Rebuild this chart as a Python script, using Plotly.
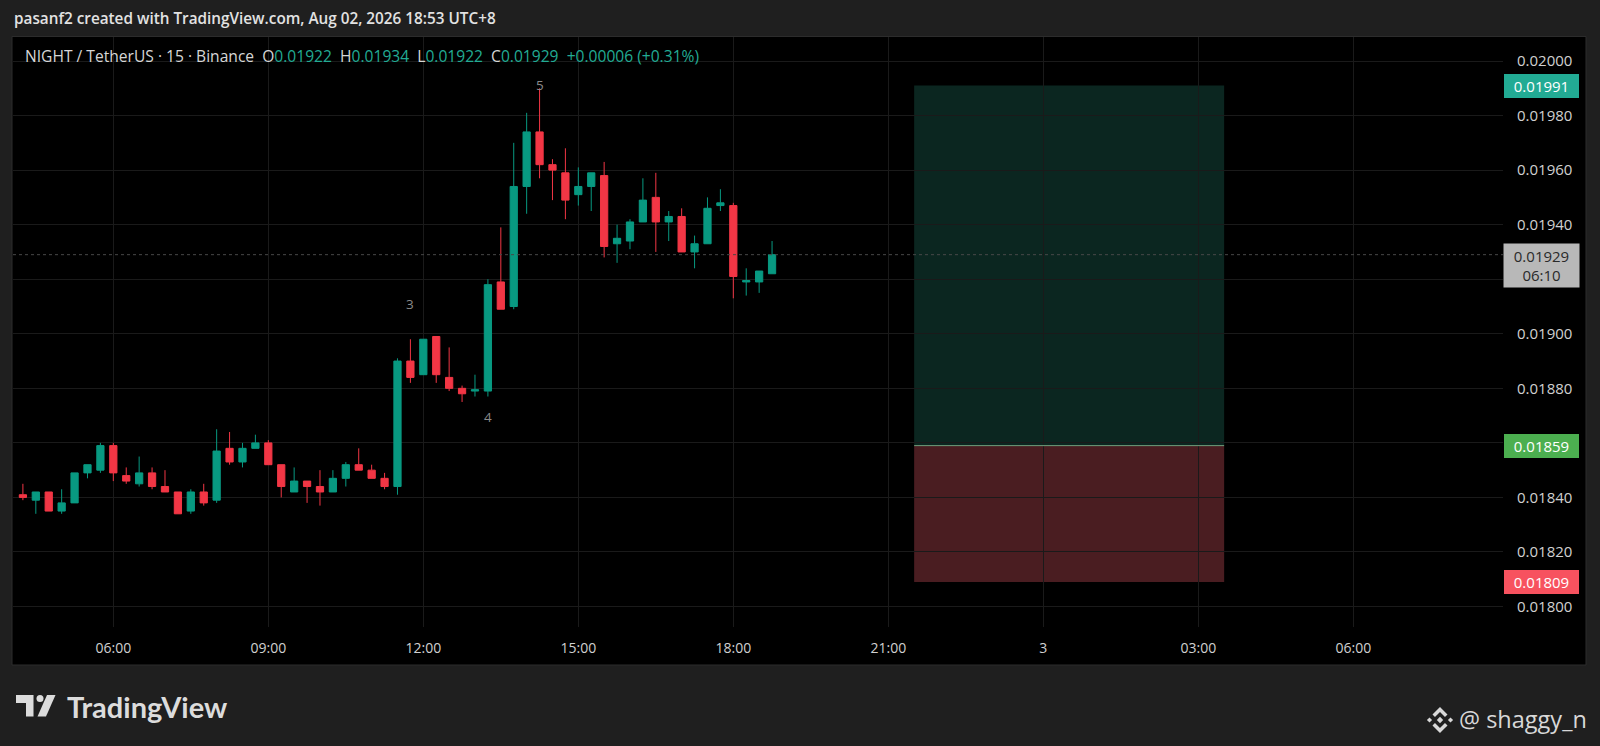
import plotly.graph_objects as go

DAY = "2026-08-02"
times = ["04:15", "04:30", "04:45", "05:00", "05:15", "05:30", "05:45",
         "06:00", "06:15", "06:30", "06:45", "07:00", "07:15", "07:30", "07:45",
         "08:00", "08:15", "08:30", "08:45", "09:00", "09:15", "09:30", "09:45",
         "10:00", "10:15", "10:30", "10:45", "11:00", "11:15", "11:30", "11:45",
         "12:00", "12:15", "12:30", "12:45", "13:00", "13:15", "13:30", "13:45",
         "14:00", "14:15", "14:30", "14:45", "15:00", "15:15", "15:30", "15:45",
         "16:00", "16:15", "16:30", "16:45", "17:00", "17:15", "17:30", "17:45",
         "18:00", "18:15", "18:30", "18:45"]

opens = [0.01841, 0.01839, 0.01842, 0.01835, 0.01838, 0.01849, 0.01850,
         0.01859, 0.01848, 0.01845, 0.01849, 0.01844, 0.01842, 0.01835, 0.01842,
         0.01839, 0.01858, 0.01853, 0.01858, 0.01860, 0.01852, 0.01842, 0.01846,
         0.01844, 0.01842, 0.01847, 0.01852, 0.01850, 0.01847, 0.01844, 0.01890,
         0.01885, 0.01899, 0.01884, 0.01880, 0.018790, 0.01879, 0.01919, 0.01910,
         0.01954, 0.01974, 0.01962, 0.01959, 0.01951, 0.01954, 0.01958, 0.01933,
         0.01934, 0.01941, 0.01950, 0.01941, 0.01943, 0.01930, 0.01933, 0.01947,
         0.01947, 0.019190, 0.01919, 0.01922]
highs = [0.01845, 0.01842, 0.01842, 0.01843, 0.01849, 0.01852, 0.01860,
         0.01860, 0.01851, 0.01855, 0.01851, 0.01850, 0.01842, 0.01843, 0.01845,
         0.01865, 0.01864, 0.01860, 0.01863, 0.01861, 0.01852, 0.01851, 0.01846,
         0.01850, 0.01850, 0.01853, 0.01858, 0.01852, 0.01849, 0.01891, 0.01898,
         0.01898, 0.01899, 0.01895, 0.01881, 0.01885, 0.01920, 0.01939, 0.01970,
         0.01981, 0.01990, 0.01964, 0.01968, 0.01961, 0.01959, 0.01963, 0.01940,
         0.01942, 0.01957, 0.01959, 0.01945, 0.01946, 0.01936, 0.01950, 0.01953,
         0.01948, 0.01924, 0.01923, 0.01934]
lows = [0.01839, 0.01834, 0.01835, 0.01834, 0.01838, 0.01847, 0.01849,
        0.01846, 0.01845, 0.01844, 0.01843, 0.01842, 0.01834, 0.01834, 0.01837,
        0.01838, 0.01852, 0.01851, 0.01858, 0.01852, 0.01840, 0.01842, 0.01838,
        0.01837, 0.01842, 0.01844, 0.01850, 0.01847, 0.01843, 0.01841, 0.01882,
        0.01885, 0.01882, 0.01879, 0.01875, 0.01877, 0.01877, 0.01909, 0.01909,
        0.01944, 0.01957, 0.01949, 0.01942, 0.01947, 0.01945, 0.01928, 0.01926,
        0.01931, 0.01941, 0.01930, 0.01934, 0.01930, 0.01924, 0.01933, 0.01945,
        0.01913, 0.01914, 0.01915, 0.01922]
closes = [0.01840, 0.01842, 0.01835, 0.01838, 0.01849, 0.01852, 0.01859,
          0.01849, 0.01846, 0.01849, 0.01844, 0.01842, 0.01834, 0.01842, 0.01838,
          0.01857, 0.01853, 0.01858, 0.01860, 0.01852, 0.01844, 0.01846, 0.01844,
          0.01842, 0.01847, 0.01852, 0.01850, 0.01847, 0.01844, 0.01890, 0.01884,
          0.01898, 0.01885, 0.01880, 0.01878, 0.018795, 0.01918, 0.01909, 0.01954,
          0.01974, 0.01962, 0.01960, 0.01949, 0.01954, 0.01959, 0.01932, 0.01935,
          0.01941, 0.01949, 0.01941, 0.01943, 0.01930, 0.01933, 0.01946, 0.01948,
          0.01921, 0.019195, 0.01923, 0.01929]

entry_price = 0.01859
target_price = 0.01991
stop_price = 0.01809
position_start = "2026-08-02 21:30"
position_end = "2026-08-03 03:30"

price_ticks = [0.01800, 0.01820, 0.01840, 0.01860, 0.01880, 0.01900,
               0.01920, 0.01940, 0.01960, 0.01980, 0.02000]
hidden_price_ticks = [0.01860, 0.01920]
time_tick_vals = ["2026-08-02 06:00", "2026-08-02 09:00", "2026-08-02 12:00",
                  "2026-08-02 15:00", "2026-08-02 18:00", "2026-08-02 21:00",
                  "2026-08-03 00:00", "2026-08-03 03:00", "2026-08-03 06:00"]
time_tick_text = ["06:00", "09:00", "12:00", "15:00", "18:00", "21:00", "3", "03:00", "06:00"]

wave_labels = ["3", "4", "5"]
wave_times = ["2026-08-02 11:45", "2026-08-02 13:15", "2026-08-02 14:15"]
wave_prices = [0.019109, 0.018696, 0.019912]

countdown = "06:10"
symbol_text = "NIGHT / TetherUS · 15 · Binance"
header_text = "pasanf2 created with TradingView.com, Aug 02, 2026 18:53 UTC+8"

W, H = 1600, 746
UP = "#089981"
DOWN = "#f23645"
FONT = "Open Sans"

def px(x):
    return x / W

def py(y):
    return 1 - y / H

x_dates = [f"{DAY} {t}" for t in times]

fig = go.Figure()
fig.add_trace(go.Candlestick(
    x=x_dates, open=opens, high=highs, low=lows, close=closes,
    increasing=dict(line=dict(color=UP, width=1), fillcolor=UP),
    decreasing=dict(line=dict(color=DOWN, width=1), fillcolor=DOWN),
    whiskerwidth=0, hoverinfo="skip", showlegend=False,
))

shapes = []
# black chart panel
shapes.append(dict(type="rect", xref="paper", yref="paper",
                   x0=px(12), x1=px(1586), y0=py(665), y1=py(36.5),
                   fillcolor="#000000", line=dict(color="#2c2c2c", width=1), layer="below"))
# position tool
shapes.append(dict(type="rect", xref="x", yref="y", x0=position_start, x1=position_end,
                   y0=entry_price, y1=target_price, fillcolor="#0b2620",
                   line=dict(width=0), layer="below"))
shapes.append(dict(type="rect", xref="x", yref="y", x0=position_start, x1=position_end,
                   y0=stop_price, y1=entry_price, fillcolor="#4a1d21",
                   line=dict(width=0), layer="below"))
shapes.append(dict(type="line", xref="x", yref="y", x0=position_start, x1=position_end,
                   y0=entry_price, y1=entry_price, line=dict(color="#6f9f7c", width=1)))
# last price dotted line
shapes.append(dict(type="line", xref="paper", yref="y", x0=px(13), x1=px(1503),
                   y0=closes[-1], y1=closes[-1], line=dict(color="#484848", width=1, dash="dot")))

def path(points):
    return "M " + " L ".join(f"{px(a):.5f},{py(b):.5f}" for a, b in points) + " Z"

# TradingView logo icon
LOGO = "#dcdcdc"
shapes.append(dict(type="path", xref="paper", yref="paper",
                   path=path([(16, 695), (33.5, 695), (33.5, 716.5), (26, 716.5), (26, 703), (16, 703)]),
                   fillcolor=LOGO, line=dict(width=0)))
shapes.append(dict(type="circle", xref="paper", yref="paper",
                   x0=px(36.5), x1=px(43.5), y0=py(702), y1=py(695),
                   fillcolor=LOGO, line=dict(width=0)))
shapes.append(dict(type="path", xref="paper", yref="paper",
                   path=path([(47, 695), (55.5, 695), (46, 716.5), (37.5, 716.5)]),
                   fillcolor=LOGO, line=dict(width=0)))

# Binance-style icon
BI = "#d8d8d8"
cx, cy = 1440, 720
def diamond(x, y, r):
    return path([(x, y - r), (x + r, y), (x, y + r), (x - r, y)])
for dx, r in [(-10.5, 2.6), (0, 3.2), (10.5, 2.6)]:
    shapes.append(dict(type="path", xref="paper", yref="paper", path=diamond(cx + dx, cy, r),
                       fillcolor=BI, line=dict(width=0)))
for s in (1, -1):
    shapes.append(dict(type="path", xref="paper", yref="paper",
                       path=path([(cx, cy - s * 13), (cx + 7.5, cy - s * 5.5), (cx + 5, cy - s * 3),
                                  (cx, cy - s * 8), (cx - 5, cy - s * 3), (cx - 7.5, cy - s * 5.5)]),
                       fillcolor=BI, line=dict(width=0)))

annotations = []
annotations.append(dict(xref="paper", yref="paper", x=px(12), y=py(18.5), xanchor="left", yanchor="middle",
                        text=header_text, showarrow=False,
                        font=dict(family=FONT, size=15.3, color="#e2e2e2", weight=600)))

chg = closes[-1] - closes[-2]
pct = chg / closes[-2] * 100
VC = "#22ab94"
sp = "\u00a0\u00a0"
legend = (f"{symbol_text}{sp}O<span style='color:{VC}'>{opens[-1]:.5f}</span>{sp}"
          f"H<span style='color:{VC}'>{highs[-1]:.5f}</span>{sp}"
          f"L<span style='color:{VC}'>{lows[-1]:.5f}</span>{sp}"
          f"C<span style='color:{VC}'>{closes[-1]:.5f}</span>{sp}"
          f"<span style='color:{VC}'>{chg:+.5f} ({pct:+.2f}%)</span>")
annotations.append(dict(xref="paper", yref="paper", x=px(23), y=py(56.5), xanchor="left", yanchor="middle",
                        text=legend, showarrow=False,
                        font=dict(family=FONT, size=15.6, color="#d6d6d6")))

for lab, t, p in zip(wave_labels, wave_times, wave_prices):
    annotations.append(dict(xref="x", yref="y", x=t, y=p, text=lab, showarrow=False,
                            xanchor="center", yanchor="middle",
                            font=dict(family=FONT, size=13.5, color="#8a8a8a")))

BOX_X = px(1541.5)
def price_box(price, bg, fg="#ffffff"):
    return dict(xref="paper", yref="y", x=BOX_X, y=price, xanchor="center", yanchor="middle",
                text=f"{price:.5f}", showarrow=False, bgcolor=bg, width=73, height=22,
                borderpad=1, borderwidth=0, align="center",
                font=dict(family=FONT, size=15, color=fg))

annotations.append(price_box(target_price, "#22ab94"))
annotations.append(price_box(entry_price, "#4caf50"))
annotations.append(price_box(stop_price, "#f7525f"))
annotations.append(dict(xref="paper", yref="y", x=BOX_X, y=closes[-1], xanchor="center", yanchor="top",
                        yshift=12, text=f"{closes[-1]:.5f}<br>{countdown}", showarrow=False,
                        bgcolor="#b8b8b8", width=73, height=41, borderpad=1, align="center",
                        font=dict(family=FONT, size=15, color="#2a2a2a")))

annotations.append(dict(xref="paper", yref="paper", x=px(65), y=py(706), xanchor="left", yanchor="middle",
                        text="TradingView", showarrow=False,
                        font=dict(family="Lato", size=29, color=LOGO, weight=700)))
annotations.append(dict(xref="paper", yref="paper", x=px(1457), y=py(719), xanchor="left", yanchor="middle",
                        text="@ shaggy_n", showarrow=False,
                        font=dict(family=FONT, size=23.5, color="#d8d8d8")))

y_text = ["" if any(abs(v - h) < 1e-9 for h in hidden_price_ticks) else f"{v:.5f}" for v in price_ticks]

GRID = "#1a1a1a"
fig.update_layout(
    width=W, height=H,
    margin=dict(l=0, r=0, t=0, b=0),
    paper_bgcolor="#1f1f1f", plot_bgcolor="#000000",
    showlegend=False, boxgap=0.2,
    shapes=shapes, annotations=annotations,
    xaxis=dict(type="date", domain=[px(13), px(1503)],
               range=["2026-08-02 04:03:30", "2026-08-03 08:53:50"],
               tickvals=time_tick_vals, ticktext=time_tick_text,
               showgrid=True, gridcolor=GRID, gridwidth=1, zeroline=False, showline=False,
               ticks="outside", ticklen=8, tickcolor="rgba(0,0,0,0)",
               tickfont=dict(family=FONT, size=14, color="#d0d0d0"),
               rangeslider=dict(visible=False), fixedrange=True),
    yaxis=dict(side="right", domain=[py(627), py(37)],
               range=[0.017925, 0.020088],
               tickvals=price_ticks, ticktext=y_text,
               showgrid=True, gridcolor=GRID, gridwidth=1, zeroline=False, showline=False,
               ticks="outside", ticklen=10, tickcolor="rgba(0,0,0,0)",
               tickfont=dict(family=FONT, size=15, color="#d0d0d0"), fixedrange=True),
)

fig.write_html("out.html", config={"displayModeBar": False},
               post_script="document.body.style.margin='0';document.body.style.padding='0';")
